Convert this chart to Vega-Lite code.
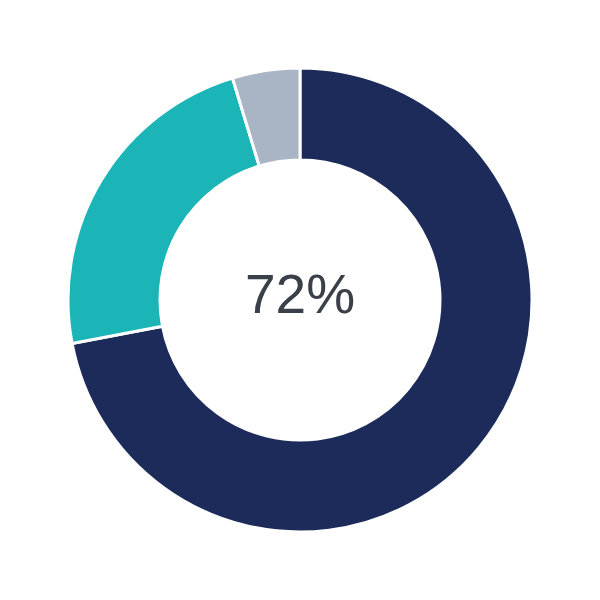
{
  "$schema": "https://vega.github.io/schema/vega-lite/v6.json",
  "width": 600,
  "height": 600,
  "autosize": {"type": "fit", "contains": "padding"},
  "padding": 0,
  "background": "white",
  "config": {"view": {"stroke": null}},
  "layer": [
    {
      "data": {
        "values": [
          {"group": "A", "share": 72, "rank": 1},
          {"group": "B", "share": 23.3, "rank": 2},
          {"group": "C", "share": 4.7, "rank": 3}
        ]
      },
      "mark": {
        "type": "arc",
        "radius": 232,
        "radius2": 140,
        "stroke": "white",
        "strokeWidth": 3
      },
      "encoding": {
        "theta": {"field": "share", "type": "quantitative", "stack": true},
        "order": {"field": "rank", "type": "quantitative"},
        "color": {
          "field": "group",
          "type": "nominal",
          "legend": null,
          "scale": {
            "domain": ["A", "B", "C"],
            "range": ["#1c2b5a", "#1bb5b8", "#a9b4c4"]
          }
        }
      }
    },
    {
      "data": {"values": [{"label": "72%"}]},
      "mark": {
        "type": "text",
        "font": "Liberation Sans",
        "fontSize": 55,
        "color": "#3a4049",
        "align": "center",
        "baseline": "middle",
        "dy": -4
      },
      "encoding": {
        "text": {"field": "label", "type": "nominal"}
      }
    }
  ]
}
